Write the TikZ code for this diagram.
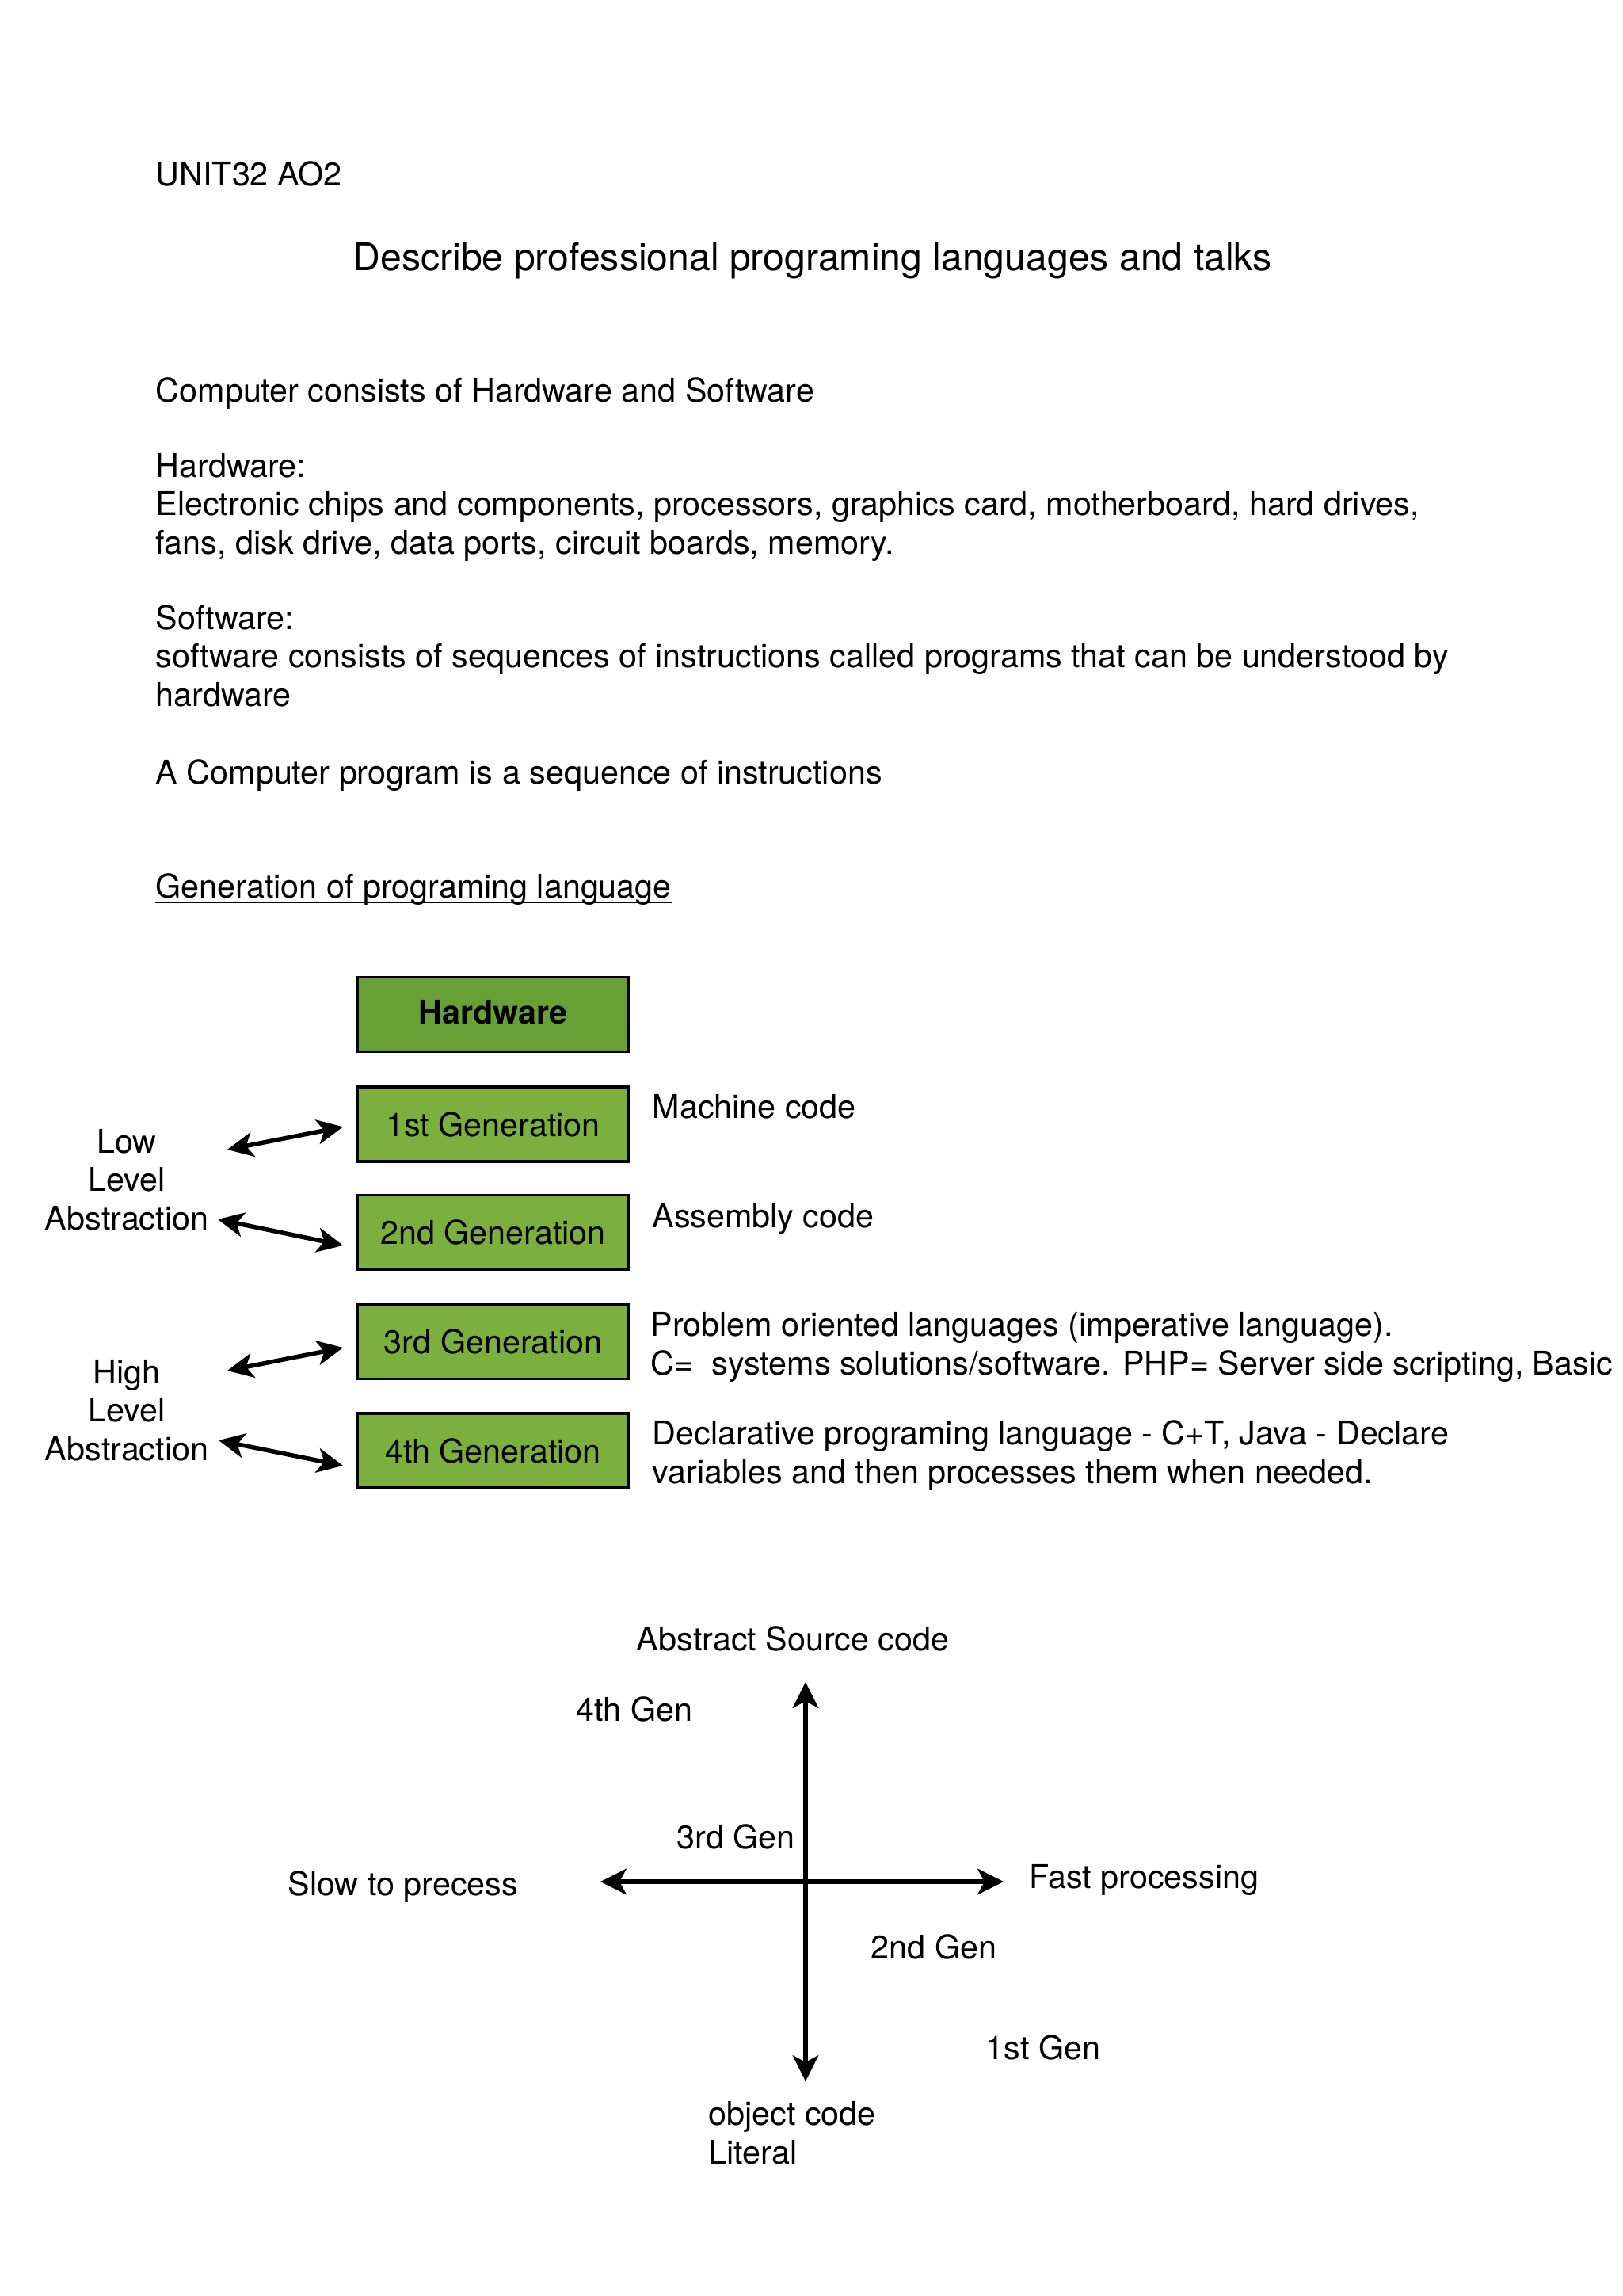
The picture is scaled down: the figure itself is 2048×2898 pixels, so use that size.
\documentclass[tikz,border=0pt]{standalone}
\usepackage{fontspec}
\setmainfont{TeX Gyre Heros}
\usetikzlibrary{arrows.meta}
\definecolor{hwgreen}{RGB}{104,160,56}
\definecolor{gengreen}{RGB}{124,176,62}
\begin{document}
\begin{tikzpicture}[x=0.29066pt,y=-0.29066pt,
  txt/.style={anchor=base west,inner sep=0pt,align=left,font=\fontsize{12}{14}\selectfont},
  genbox/.style={draw,line width=1pt,fill=gengreen,minimum width=99.3pt,minimum height=27.3pt,inner sep=0pt,font=\fontsize{12}{14}\selectfont},
  lvarrow/.style={line width=1.6pt,{Stealth[length=9.5pt,width=9pt,inset=2.5pt]}-{Stealth[length=9.5pt,width=9pt,inset=2.5pt]},shorten >=5pt},
  axis/.style={line width=2pt,{Stealth[length=9.5pt,width=9.4pt,inset=2.5pt]}-{Stealth[length=9.5pt,width=9.4pt,inset=2.5pt]}}]
\useasboundingbox[fill=white] (0,0) rectangle (2048,2898);

\node[txt] (unit) at (196,234) {UNIT32 AO2};
\node[txt,font=\fontsize{14}{17}\selectfont] (title) at (445,341) {Describe professional programing languages and talks};
\node[txt] (intro) at (196,507) {Computer consists of Hardware and Software};
\node[txt] (hw) at (196,699) {Hardware:\\Electronic chips and components, processors, graphics card, motherboard, hard drives,\\fans, disk drive, data ports, circuit boards, memory.};
\node[txt] (sw) at (196,891) {Software:\\software consists of sequences of instructions called programs that can be understood by\\hardware};
\node[txt] (prog) at (196,989) {A Computer program is a sequence of instructions};
\node[txt] (gen) at (196,1133) {Generation of programing language};
\draw[line width=0.6pt] ([yshift=-1.7pt]gen.base west) -- ([yshift=-1.7pt]gen.base east);

\node[genbox,fill=hwgreen] (hard) at (622.5,1280.5) {\raisebox{2pt}{\textbf{Hardware}}\hspace{3pt}};
\node[genbox] (gen1) at (622.5,1419) {1st Generation};
\node[genbox] (gen2) at (622.5,1555.5) {2nd Generation};
\node[genbox] (gen3) at (622.5,1693.5) {3rd Generation};
\node[genbox] (gen4) at (622.5,1831) {4th Generation};

\node[txt] (mach) at (823,1411) {Machine code};
\node[txt] (asm) at (823,1549) {Assembly code};
\node[txt] (prob) at (821,1735) {Problem oriented languages (imperative language).\\C=\ \ systems solutions/software. PHP= Server side scripting, Basic};
\node[txt] (decl) at (823,1872) {Declarative programing language - C+T, Java - Declare\\variables and then processes them when needed.};

\node[txt,anchor=base,align=center] (low) at (160,1552) {Low\\Level\\Abstraction};
\node[txt,anchor=base,align=center] (high) at (160,1843) {High\\Level\\Abstraction};

\coordinate (a1) at (287,1451);
\coordinate (a2) at (275,1539);
\coordinate (a3) at (287,1730);
\coordinate (a4) at (276,1818);
\draw[lvarrow] (a1) -- (gen1.west);
\draw[lvarrow] (a2) -- ([yshift=-5.8pt]gen2.west);
\draw[lvarrow] (a3) -- ([yshift=-1.2pt]gen3.west);
\draw[lvarrow] (a4) -- ([yshift=-6.5pt]gen4.west);

\coordinate (up) at (1017,2123);
\coordinate (down) at (1017,2627);
\coordinate (left) at (758,2375);
\coordinate (right) at (1267,2375);
\draw[axis] (down) -- (up);
\draw[axis] (left) -- (right);

\node[txt,anchor=base] (src) at (1001,2083) {Abstract Source code};
\node[txt] (g4) at (727,2172) {4th Gen};
\node[txt] (g3) at (854,2333) {3rd Gen};
\node[txt] (slow) at (363,2392) {Slow to precess};
\node[txt] (fast) at (1299,2383) {Fast processing};
\node[txt] (g2) at (1099,2472) {2nd Gen};
\node[txt] (g1) at (1244,2599) {1st Gen};
\node[txt] (obj) at (894,2731) {object code\\Literal};
\end{tikzpicture}
\end{document}
